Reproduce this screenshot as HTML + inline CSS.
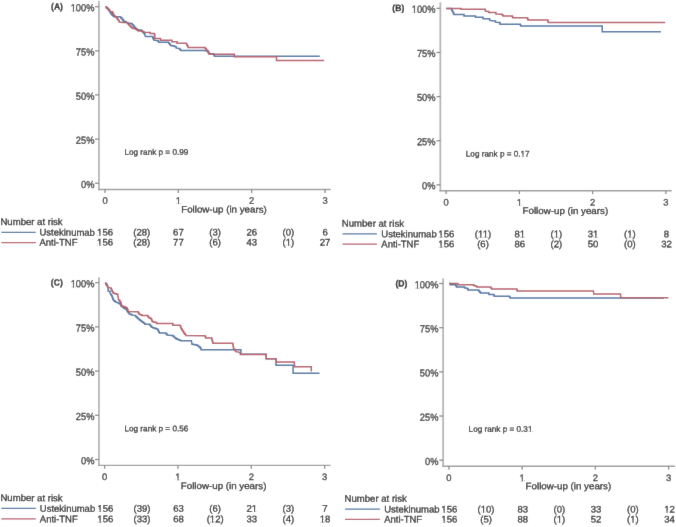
<!DOCTYPE html>
<html><head><meta charset="utf-8"><style>
html,body{margin:0;padding:0;background:#fff;}
svg{display:block;}
text{font-family:"Liberation Sans",sans-serif;text-rendering:geometricPrecision;stroke:#2a2a2a;stroke-width:0.28px;}
.ax{fill:#3a3a3a;stroke:#3a3a3a;stroke-width:0.3px;}
</style></head><body>
<svg width="676" height="527" viewBox="0 0 676 527">
<defs><filter id="bl" x="0" y="0" width="676" height="527" filterUnits="userSpaceOnUse"><feConvolveMatrix order="3" kernelMatrix="0.0053 0.062 0.0053 0.062 0.729 0.062 0.0053 0.062 0.0053" edgeMode="duplicate"/></filter></defs>
<g filter="url(#bl)">
<rect width="676" height="527" fill="#fff"/>
<g>
<text transform="translate(51 9.4) skewY(0.05) scale(0.93 0.97)" font-size="9.3" fill="#2a2a2a" font-weight="bold">(A)</text>
<path d="M98.95 1V190.2" fill="none" stroke="#b6b6b6" stroke-width="1.8"/>
<path d="M98.15 189.5H330.7" fill="none" stroke="#9e9e9e" stroke-width="1.4"/>
<path d="M95.05 6.65H98.95" stroke="#8a8a8a" stroke-width="1.3"/>
<text class="ax" transform="translate(94.45 11.35) skewY(0.05) scale(1.0 1.1)" font-size="9.3" fill="#2a2a2a" text-anchor="end">100%</text>
<path d="M95.05 50.8H98.95" stroke="#8a8a8a" stroke-width="1.3"/>
<text class="ax" transform="translate(94.45 55.5) skewY(0.05) scale(1.0 1.1)" font-size="9.3" fill="#2a2a2a" text-anchor="end">75%</text>
<path d="M95.05 94.95H98.95" stroke="#8a8a8a" stroke-width="1.3"/>
<text class="ax" transform="translate(94.45 99.65) skewY(0.05) scale(1.0 1.1)" font-size="9.3" fill="#2a2a2a" text-anchor="end">50%</text>
<path d="M95.05 139.1H98.95" stroke="#8a8a8a" stroke-width="1.3"/>
<text class="ax" transform="translate(94.45 143.8) skewY(0.05) scale(1.0 1.1)" font-size="9.3" fill="#2a2a2a" text-anchor="end">25%</text>
<path d="M95.05 183.25H98.95" stroke="#8a8a8a" stroke-width="1.3"/>
<text class="ax" transform="translate(94.45 187.95) skewY(0.05) scale(1.0 1.1)" font-size="9.3" fill="#2a2a2a" text-anchor="end">0%</text>
<path d="M105 189.5V192.9" stroke="#8a8a8a" stroke-width="1.3"/>
<text class="ax" transform="translate(105 203.8) skewY(0.05) scale(1.0 0.99)" font-size="9.4" fill="#2a2a2a" text-anchor="middle">0</text>
<path d="M178.33 189.5V192.9" stroke="#8a8a8a" stroke-width="1.3"/>
<text class="ax" transform="translate(178.33 203.8) skewY(0.05) scale(1.0 0.99)" font-size="9.4" fill="#2a2a2a" text-anchor="middle">1</text>
<path d="M251.67 189.5V192.9" stroke="#8a8a8a" stroke-width="1.3"/>
<text class="ax" transform="translate(251.67 203.8) skewY(0.05) scale(1.0 0.99)" font-size="9.4" fill="#2a2a2a" text-anchor="middle">2</text>
<path d="M325 189.5V192.9" stroke="#8a8a8a" stroke-width="1.3"/>
<text class="ax" transform="translate(325 203.8) skewY(0.05) scale(1.0 0.99)" font-size="9.4" fill="#2a2a2a" text-anchor="middle">3</text>
<text transform="translate(224 212.6) skewY(0.05) scale(1.04 1.0)" font-size="9.4" fill="#2a2a2a" text-anchor="middle">Follow-up (in years)</text>
<text style="stroke-width:0.28px;stroke:#2e2e2e" transform="translate(124.45 154.8) skewY(0.05) scale(1.01 1.0)" font-size="8.1" fill="#2e2e2e">Log rank p = 0.99</text>
<text transform="translate(0.45 224.9) skewY(0.05) scale(1.02 1.01)" font-size="9.4" fill="#2a2a2a">Number at risk</text>
<path d="M1.4 232.45H35.8" stroke="#5176a4" stroke-width="1.3"/>
<path d="M1.4 242.6H35.8" stroke="#b65e6c" stroke-width="1.3"/>
<text transform="translate(39.5 235.6) skewY(0.05) scale(1.012 1.01)" font-size="9.4" fill="#2a2a2a">Ustekinumab</text>
<text transform="translate(39.5 245.5) skewY(0.05) scale(1.012 1.01)" font-size="9.4" fill="#2a2a2a">Anti-TNF</text>
<text transform="translate(105.1 235.6) skewY(0.05) scale(1.02 1.01)" font-size="9.4" fill="#2a2a2a" text-anchor="middle">156</text>
<text transform="translate(105.1 245.5) skewY(0.05) scale(1.02 1.01)" font-size="9.4" fill="#2a2a2a" text-anchor="middle">156</text>
<text transform="translate(141.77 235.6) skewY(0.05) scale(1.02 1.01)" font-size="9.4" fill="#2a2a2a" text-anchor="middle">(28)</text>
<text transform="translate(141.77 245.5) skewY(0.05) scale(1.02 1.01)" font-size="9.4" fill="#2a2a2a" text-anchor="middle">(28)</text>
<text transform="translate(178.43 235.6) skewY(0.05) scale(1.02 1.01)" font-size="9.4" fill="#2a2a2a" text-anchor="middle">67</text>
<text transform="translate(178.43 245.5) skewY(0.05) scale(1.02 1.01)" font-size="9.4" fill="#2a2a2a" text-anchor="middle">77</text>
<text transform="translate(215.1 235.6) skewY(0.05) scale(1.02 1.01)" font-size="9.4" fill="#2a2a2a" text-anchor="middle">(3)</text>
<text transform="translate(215.1 245.5) skewY(0.05) scale(1.02 1.01)" font-size="9.4" fill="#2a2a2a" text-anchor="middle">(6)</text>
<text transform="translate(251.77 235.6) skewY(0.05) scale(1.02 1.01)" font-size="9.4" fill="#2a2a2a" text-anchor="middle">26</text>
<text transform="translate(251.77 245.5) skewY(0.05) scale(1.02 1.01)" font-size="9.4" fill="#2a2a2a" text-anchor="middle">43</text>
<text transform="translate(288.43 235.6) skewY(0.05) scale(1.02 1.01)" font-size="9.4" fill="#2a2a2a" text-anchor="middle">(0)</text>
<text transform="translate(288.43 245.5) skewY(0.05) scale(1.02 1.01)" font-size="9.4" fill="#2a2a2a" text-anchor="middle">(1)</text>
<text transform="translate(325.1 235.6) skewY(0.05) scale(1.02 1.01)" font-size="9.4" fill="#2a2a2a" text-anchor="middle">6</text>
<text transform="translate(325.1 245.5) skewY(0.05) scale(1.02 1.01)" font-size="9.4" fill="#2a2a2a" text-anchor="middle">27</text>
<path d="M105.3 6.7H106.45V7.7H107.6V8.7H108.37V9.83H109.13V10.97H109.9V12.1H110.63V13.13H111.37V14.17H112.1V15.2H113.05V16H114V16.8H119.3H120.65V17.9H122V19H122.75V20.1H123.5V21.2H124.85V21.8H126.2V22.4L128.1 23.1L131.1 23.5H132.25V24.85H133.4V26.2H134.55V27.5H135.7V28.8H136.8V29.4H137.9V30H140.6H141.55V30.95H142.5V31.9H143.65V33.4H144.8V34.9L145.5 36.6H152.2H152.73V37.8H153.27V39H153.8V40.2L157.4 40.7H158.5V42.3H167.8H168.67V43.33H169.53V44.37H170.4V45.4H171.77V45.73H173.13V46.07H174.5V46.4H176.1V48L178.7 48.5H179.7V49.5H180.7V50.5H204L207.1 51.1H208.15V52.4H209.2V53.7H213.3H213.85V54.95H214.4V56.2H319.8" fill="none" stroke="#5176a4" stroke-width="1.5"/>
<path d="M105.3 6.7H106.45V7.88H107.6V9.05H108.75V10.23H109.9V11.4L112.1 11.8H112.73V13.17H113.37V14.53H114V15.9H115.15V16.85H116.3V17.8H117.3V19.2H118.3V20.6H119.3V22L123.5 22.4H126.2H127.47V23.67H128.73V24.93H130V26.2H130.95V27.15H131.9V28.1H133.17V28.47H134.43V28.83H135.7V29.2H137V30.15H138.3V31.1H141H142.5V31.65H144V32.2L149.1 32.4H150.2V33.5H153.8H154.3V34.5H154.8V35.5V38.6H159H160.5V40.2H170.9H171.9V41.7H176.1H177.1V43.3H185.9H186.6V44.67H187.3V46.03H188V47.4H204H205.05V48.45H206.1V49.5H206.8V50.53H207.5V51.57H208.2V52.6H209.2V54.2H234.4V56.8H276.5V60.4H324.2" fill="none" stroke="#b65e6c" stroke-width="1.5"/>
</g>
<g>
<text transform="translate(392.3 10.9) skewY(0.05) scale(0.93 0.97)" font-size="9.3" fill="#2a2a2a" font-weight="bold">(B)</text>
<path d="M440.35 2.3V191.4" fill="none" stroke="#b6b6b6" stroke-width="1.8"/>
<path d="M439.55 190.7H671.7" fill="none" stroke="#9e9e9e" stroke-width="1.4"/>
<path d="M436.45 8.35H440.35" stroke="#8a8a8a" stroke-width="1.3"/>
<text class="ax" transform="translate(435.55 12.8) skewY(0.05) scale(1.0 1.1)" font-size="9.3" fill="#2a2a2a" text-anchor="end">100%</text>
<path d="M436.45 52.48H440.35" stroke="#8a8a8a" stroke-width="1.3"/>
<text class="ax" transform="translate(435.55 56.93) skewY(0.05) scale(1.0 1.1)" font-size="9.3" fill="#2a2a2a" text-anchor="end">75%</text>
<path d="M436.45 96.6H440.35" stroke="#8a8a8a" stroke-width="1.3"/>
<text class="ax" transform="translate(435.55 101.05) skewY(0.05) scale(1.0 1.1)" font-size="9.3" fill="#2a2a2a" text-anchor="end">50%</text>
<path d="M436.45 140.72H440.35" stroke="#8a8a8a" stroke-width="1.3"/>
<text class="ax" transform="translate(435.55 145.17) skewY(0.05) scale(1.0 1.1)" font-size="9.3" fill="#2a2a2a" text-anchor="end">25%</text>
<path d="M436.45 184.85H440.35" stroke="#8a8a8a" stroke-width="1.3"/>
<text class="ax" transform="translate(435.55 189.3) skewY(0.05) scale(1.0 1.1)" font-size="9.3" fill="#2a2a2a" text-anchor="end">0%</text>
<path d="M446.1 190.7V194.1" stroke="#8a8a8a" stroke-width="1.3"/>
<text class="ax" transform="translate(446.1 205.5) skewY(0.05) scale(1.0 0.99)" font-size="9.4" fill="#2a2a2a" text-anchor="middle">0</text>
<path d="M519.37 190.7V194.1" stroke="#8a8a8a" stroke-width="1.3"/>
<text class="ax" transform="translate(519.37 205.5) skewY(0.05) scale(1.0 0.99)" font-size="9.4" fill="#2a2a2a" text-anchor="middle">1</text>
<path d="M592.63 190.7V194.1" stroke="#8a8a8a" stroke-width="1.3"/>
<text class="ax" transform="translate(592.63 205.5) skewY(0.05) scale(1.0 0.99)" font-size="9.4" fill="#2a2a2a" text-anchor="middle">2</text>
<path d="M665.9 190.7V194.1" stroke="#8a8a8a" stroke-width="1.3"/>
<text class="ax" transform="translate(665.9 205.5) skewY(0.05) scale(1.0 0.99)" font-size="9.4" fill="#2a2a2a" text-anchor="middle">3</text>
<text transform="translate(565.35 213.9) skewY(0.05) scale(1.04 1.0)" font-size="9.4" fill="#2a2a2a" text-anchor="middle">Follow-up (in years)</text>
<text style="stroke-width:0.28px;stroke:#2e2e2e" transform="translate(465.8 156.4) skewY(0.05) scale(1.01 1.0)" font-size="8.1" fill="#2e2e2e">Log rank p = 0.17</text>
<text transform="translate(341.8 226.6) skewY(0.05) scale(1.02 1.01)" font-size="9.4" fill="#2a2a2a">Number at risk</text>
<path d="M342.5 233.85H376.9" stroke="#5176a4" stroke-width="1.3"/>
<path d="M342.5 244.1H376.9" stroke="#b65e6c" stroke-width="1.3"/>
<text transform="translate(381.3 237.2) skewY(0.05) scale(1.012 1.01)" font-size="9.4" fill="#2a2a2a">Ustekinumab</text>
<text transform="translate(381.3 247.2) skewY(0.05) scale(1.012 1.01)" font-size="9.4" fill="#2a2a2a">Anti-TNF</text>
<text transform="translate(446.3 237.2) skewY(0.05) scale(1.02 1.01)" font-size="9.4" fill="#2a2a2a" text-anchor="middle">156</text>
<text transform="translate(446.3 247.2) skewY(0.05) scale(1.02 1.01)" font-size="9.4" fill="#2a2a2a" text-anchor="middle">156</text>
<text transform="translate(483 237.2) skewY(0.05) scale(1.02 1.01)" font-size="9.4" fill="#2a2a2a" text-anchor="middle">(11)</text>
<text transform="translate(483 247.2) skewY(0.05) scale(1.02 1.01)" font-size="9.4" fill="#2a2a2a" text-anchor="middle">(6)</text>
<text transform="translate(519.7 237.2) skewY(0.05) scale(1.02 1.01)" font-size="9.4" fill="#2a2a2a" text-anchor="middle">81</text>
<text transform="translate(519.7 247.2) skewY(0.05) scale(1.02 1.01)" font-size="9.4" fill="#2a2a2a" text-anchor="middle">86</text>
<text transform="translate(556.4 237.2) skewY(0.05) scale(1.02 1.01)" font-size="9.4" fill="#2a2a2a" text-anchor="middle">(1)</text>
<text transform="translate(556.4 247.2) skewY(0.05) scale(1.02 1.01)" font-size="9.4" fill="#2a2a2a" text-anchor="middle">(2)</text>
<text transform="translate(593.1 237.2) skewY(0.05) scale(1.02 1.01)" font-size="9.4" fill="#2a2a2a" text-anchor="middle">31</text>
<text transform="translate(593.1 247.2) skewY(0.05) scale(1.02 1.01)" font-size="9.4" fill="#2a2a2a" text-anchor="middle">50</text>
<text transform="translate(629.8 237.2) skewY(0.05) scale(1.02 1.01)" font-size="9.4" fill="#2a2a2a" text-anchor="middle">(1)</text>
<text transform="translate(629.8 247.2) skewY(0.05) scale(1.02 1.01)" font-size="9.4" fill="#2a2a2a" text-anchor="middle">(0)</text>
<text transform="translate(666.5 237.2) skewY(0.05) scale(1.02 1.01)" font-size="9.4" fill="#2a2a2a" text-anchor="middle">8</text>
<text transform="translate(666.5 247.2) skewY(0.05) scale(1.02 1.01)" font-size="9.4" fill="#2a2a2a" text-anchor="middle">32</text>
<path d="M446.2 8.4H451.1H451.53V9.43H451.97V10.47H452.4V11.5H453.1V12.95H453.8V14.4H463.1H464V16H474.2H475.5V17.3H481.7H483V18.8H488.8H489.7V20.4L494.1 20.9H495.5V22.2L498.6 22.6H500V24.2H519.9H520.35V25.15H520.8V26.1H602.2V31.7H660.9" fill="none" stroke="#5176a4" stroke-width="1.5"/>
<path d="M446.2 8.4H460H460.9V9.3H483.9H485.3V11.1L487.9 11.4H488.8V12.4H495H495.9V14L501.2 14.2H502.1V15.1H503V16H511.9H512.35V16.9H512.8V17.8H527H527.45V18.85H527.9V19.9H547.4H547.85V21.15H548.3V22.4H665.2" fill="none" stroke="#b65e6c" stroke-width="1.5"/>
</g>
<g>
<text transform="translate(50.8 285.6) skewY(0.05) scale(0.93 0.97)" font-size="9.3" fill="#2a2a2a" font-weight="bold">(C)</text>
<path d="M98.95 277.3V466.1" fill="none" stroke="#b6b6b6" stroke-width="1.8"/>
<path d="M98.15 465.4H330.6" fill="none" stroke="#9e9e9e" stroke-width="1.4"/>
<path d="M95.05 282.65H98.95" stroke="#8a8a8a" stroke-width="1.3"/>
<text class="ax" transform="translate(94.45 287.35) skewY(0.05) scale(1.0 1.1)" font-size="9.3" fill="#2a2a2a" text-anchor="end">100%</text>
<path d="M95.05 326.86H98.95" stroke="#8a8a8a" stroke-width="1.3"/>
<text class="ax" transform="translate(94.45 331.56) skewY(0.05) scale(1.0 1.1)" font-size="9.3" fill="#2a2a2a" text-anchor="end">75%</text>
<path d="M95.05 371.07H98.95" stroke="#8a8a8a" stroke-width="1.3"/>
<text class="ax" transform="translate(94.45 375.77) skewY(0.05) scale(1.0 1.1)" font-size="9.3" fill="#2a2a2a" text-anchor="end">50%</text>
<path d="M95.05 415.29H98.95" stroke="#8a8a8a" stroke-width="1.3"/>
<text class="ax" transform="translate(94.45 419.99) skewY(0.05) scale(1.0 1.1)" font-size="9.3" fill="#2a2a2a" text-anchor="end">25%</text>
<path d="M95.05 459.5H98.95" stroke="#8a8a8a" stroke-width="1.3"/>
<text class="ax" transform="translate(94.45 464.2) skewY(0.05) scale(1.0 1.1)" font-size="9.3" fill="#2a2a2a" text-anchor="end">0%</text>
<path d="M104.6 465.4V468.8" stroke="#8a8a8a" stroke-width="1.3"/>
<text class="ax" transform="translate(104.6 480.1) skewY(0.05) scale(1.0 0.99)" font-size="9.4" fill="#2a2a2a" text-anchor="middle">0</text>
<path d="M177.93 465.4V468.8" stroke="#8a8a8a" stroke-width="1.3"/>
<text class="ax" transform="translate(177.93 480.1) skewY(0.05) scale(1.0 0.99)" font-size="9.4" fill="#2a2a2a" text-anchor="middle">1</text>
<path d="M251.27 465.4V468.8" stroke="#8a8a8a" stroke-width="1.3"/>
<text class="ax" transform="translate(251.27 480.1) skewY(0.05) scale(1.0 0.99)" font-size="9.4" fill="#2a2a2a" text-anchor="middle">2</text>
<path d="M324.6 465.4V468.8" stroke="#8a8a8a" stroke-width="1.3"/>
<text class="ax" transform="translate(324.6 480.1) skewY(0.05) scale(1.0 0.99)" font-size="9.4" fill="#2a2a2a" text-anchor="middle">3</text>
<text transform="translate(223.6 489.1) skewY(0.05) scale(1.04 1.0)" font-size="9.4" fill="#2a2a2a" text-anchor="middle">Follow-up (in years)</text>
<text style="stroke-width:0.28px;stroke:#2e2e2e" transform="translate(124.45 431.3) skewY(0.05) scale(1.01 1.0)" font-size="8.1" fill="#2e2e2e">Log rank p = 0.56</text>
<text transform="translate(0.45 501.1) skewY(0.05) scale(1.02 1.01)" font-size="9.4" fill="#2a2a2a">Number at risk</text>
<path d="M1.3 508.35H35.8" stroke="#5176a4" stroke-width="1.3"/>
<path d="M1.3 518.9H35.8" stroke="#b65e6c" stroke-width="1.3"/>
<text transform="translate(39.8 511.75) skewY(0.05) scale(1.012 1.01)" font-size="9.4" fill="#2a2a2a">Ustekinumab</text>
<text transform="translate(39.8 522.2) skewY(0.05) scale(1.012 1.01)" font-size="9.4" fill="#2a2a2a">Anti-TNF</text>
<text transform="translate(105.35 511.75) skewY(0.05) scale(1.02 1.01)" font-size="9.4" fill="#2a2a2a" text-anchor="middle">156</text>
<text transform="translate(105.35 522.2) skewY(0.05) scale(1.02 1.01)" font-size="9.4" fill="#2a2a2a" text-anchor="middle">156</text>
<text transform="translate(141.96 511.75) skewY(0.05) scale(1.02 1.01)" font-size="9.4" fill="#2a2a2a" text-anchor="middle">(39)</text>
<text transform="translate(141.96 522.2) skewY(0.05) scale(1.02 1.01)" font-size="9.4" fill="#2a2a2a" text-anchor="middle">(33)</text>
<text transform="translate(178.57 511.75) skewY(0.05) scale(1.02 1.01)" font-size="9.4" fill="#2a2a2a" text-anchor="middle">63</text>
<text transform="translate(178.57 522.2) skewY(0.05) scale(1.02 1.01)" font-size="9.4" fill="#2a2a2a" text-anchor="middle">68</text>
<text transform="translate(215.18 511.75) skewY(0.05) scale(1.02 1.01)" font-size="9.4" fill="#2a2a2a" text-anchor="middle">(6)</text>
<text transform="translate(215.18 522.2) skewY(0.05) scale(1.02 1.01)" font-size="9.4" fill="#2a2a2a" text-anchor="middle">(12)</text>
<text transform="translate(251.78 511.75) skewY(0.05) scale(1.02 1.01)" font-size="9.4" fill="#2a2a2a" text-anchor="middle">21</text>
<text transform="translate(251.78 522.2) skewY(0.05) scale(1.02 1.01)" font-size="9.4" fill="#2a2a2a" text-anchor="middle">33</text>
<text transform="translate(288.39 511.75) skewY(0.05) scale(1.02 1.01)" font-size="9.4" fill="#2a2a2a" text-anchor="middle">(3)</text>
<text transform="translate(288.39 522.2) skewY(0.05) scale(1.02 1.01)" font-size="9.4" fill="#2a2a2a" text-anchor="middle">(4)</text>
<text transform="translate(325 511.75) skewY(0.05) scale(1.02 1.01)" font-size="9.4" fill="#2a2a2a" text-anchor="middle">7</text>
<text transform="translate(325 522.2) skewY(0.05) scale(1.02 1.01)" font-size="9.4" fill="#2a2a2a" text-anchor="middle">18</text>
<path d="M104.9 283.3H106.05V284.25H107.2V285.2L108 287.9L108.3 291.3H109.9V292.4L110.6 294.3H111.2V295.25H111.8V296.2H112.35V297.7H112.9V299.2H113.45V300.15H114V301.1H115.15V301.7H116.3V302.3L118.2 303H119.15V303.6H120.1V304.2H120.65V305.35H121.2V306.5H122.8V307.6H123.9V308.35H125V309.1H126.6V310.6H127.35V311.55H128.1V312.5H129.2V314H130.55V314.6H131.9V315.2L134.5 315.6H135.8V316.75H137.1V317.9H138.13V318.77H139.17V319.63H140.2V320.5H141.35V321.43H142.5V322.35H143.65V323.27H144.8V324.2H149H149.87V325.23H150.73V326.27H151.6V327.3H152.74V327.7H153.88V328.1H155.02V328.5H156.16V328.9H157.3V329.3H157.97V330.53H158.63V331.77H159.3V333H165H166.05V334H167.1V335L171.8 335.5H173.17V336.57H174.53V337.63H175.9V338.7H177.07V339.2H178.25V339.7H179.43V340.2H180.6V340.7H191.4L192 344.3H193.28V344.57H194.55V344.85H195.82V345.12H197.1V345.4H198.55V346.75H200V348.1H201V349.7H240.9V354.3H266.2V358.8H276V365.2H293.1V373.2H319.5" fill="none" stroke="#5176a4" stroke-width="1.5"/>
<path d="M104.9 283.3H105.8V284.57H106.7V285.83H107.6V287.1L110.6 287.9H111.1V289.03H111.6V290.17H112.1V291.3H112.7V292.25H113.3V293.2H114.8V293.75H116.3V294.3H117.8V295.8L118.6 300H119.55V301.15H120.5V302.3H120.87V303.57H121.23V304.83H121.6V306.1H122.73V306.47H123.87V306.83H125V307.2H125.95V307.75H126.9V308.3H127.3V309.33H127.7V310.37H128.1V311.4L137.4 311.7H138.25V313H139.1V314.3H140.4V314.85H141.7V315.4H146.9H147.7V316.4H148.5V317.4H149.8V318.2H151.1V319H151.6V320.3H152.1V321.6H153.3V321.93H154.5V322.27H155.7V322.6H156.7V323.6H171.8H172.8V325.2H180H180.37V326.4H180.73V327.6H181.1V328.8H181.97V330.2H182.83V331.6H183.7V333H184.7V334.3H185.7V335.6L204.7 335.7H205.2V336.9H205.7V338.1H211.4H211.78V339.4H212.15V340.7H212.53V342H212.9V343.3H232.6H232.82V344.48H233.04V345.66H233.26V346.84H233.48V348.02H233.7V349.2H234.7V350.45H235.7V351.7L239.9 352.3L240.4 354.6H266.2V358.8H276L276.6 362.1H294.2L294.7 366.7H311.3V371.4" fill="none" stroke="#b65e6c" stroke-width="1.5"/>
</g>
<g>
<text transform="translate(395.4 286.45) skewY(0.05) scale(0.93 0.97)" font-size="9.3" fill="#2a2a2a" font-weight="bold">(D)</text>
<path d="M443.15 278.3V466.96" fill="none" stroke="#b6b6b6" stroke-width="1.8"/>
<path d="M442.35 466.26H674.9" fill="none" stroke="#9e9e9e" stroke-width="1.4"/>
<path d="M439.25 283.5H443.15" stroke="#8a8a8a" stroke-width="1.3"/>
<text class="ax" transform="translate(438.45 288.2) skewY(0.05) scale(1.0 1.1)" font-size="9.3" fill="#2a2a2a" text-anchor="end">100%</text>
<path d="M439.25 327.68H443.15" stroke="#8a8a8a" stroke-width="1.3"/>
<text class="ax" transform="translate(438.45 332.38) skewY(0.05) scale(1.0 1.1)" font-size="9.3" fill="#2a2a2a" text-anchor="end">75%</text>
<path d="M439.25 371.85H443.15" stroke="#8a8a8a" stroke-width="1.3"/>
<text class="ax" transform="translate(438.45 376.55) skewY(0.05) scale(1.0 1.1)" font-size="9.3" fill="#2a2a2a" text-anchor="end">50%</text>
<path d="M439.25 416.02H443.15" stroke="#8a8a8a" stroke-width="1.3"/>
<text class="ax" transform="translate(438.45 420.72) skewY(0.05) scale(1.0 1.1)" font-size="9.3" fill="#2a2a2a" text-anchor="end">25%</text>
<path d="M439.25 460.2H443.15" stroke="#8a8a8a" stroke-width="1.3"/>
<text class="ax" transform="translate(438.45 464.9) skewY(0.05) scale(1.0 1.1)" font-size="9.3" fill="#2a2a2a" text-anchor="end">0%</text>
<path d="M448.95 466.26V469.66" stroke="#8a8a8a" stroke-width="1.3"/>
<text class="ax" transform="translate(448.95 481) skewY(0.05) scale(1.0 0.99)" font-size="9.4" fill="#2a2a2a" text-anchor="middle">0</text>
<path d="M522.17 466.26V469.66" stroke="#8a8a8a" stroke-width="1.3"/>
<text class="ax" transform="translate(522.17 481) skewY(0.05) scale(1.0 0.99)" font-size="9.4" fill="#2a2a2a" text-anchor="middle">1</text>
<path d="M595.38 466.26V469.66" stroke="#8a8a8a" stroke-width="1.3"/>
<text class="ax" transform="translate(595.38 481) skewY(0.05) scale(1.0 0.99)" font-size="9.4" fill="#2a2a2a" text-anchor="middle">2</text>
<path d="M668.6 466.26V469.66" stroke="#8a8a8a" stroke-width="1.3"/>
<text class="ax" transform="translate(668.6 481) skewY(0.05) scale(1.0 0.99)" font-size="9.4" fill="#2a2a2a" text-anchor="middle">3</text>
<text transform="translate(568.4 489.2) skewY(0.05) scale(1.04 1.0)" font-size="9.4" fill="#2a2a2a" text-anchor="middle">Follow-up (in years)</text>
<text style="stroke-width:0.28px;stroke:#2e2e2e" transform="translate(468.6 431.7) skewY(0.05) scale(1.01 1.0)" font-size="8.1" fill="#2e2e2e">Log rank p = 0.31</text>
<text transform="translate(344.6 501.7) skewY(0.05) scale(1.02 1.01)" font-size="9.4" fill="#2a2a2a">Number at risk</text>
<path d="M345 509.2H379.9" stroke="#5176a4" stroke-width="1.3"/>
<path d="M345 519.4H379.9" stroke="#b65e6c" stroke-width="1.3"/>
<text transform="translate(384.2 512.55) skewY(0.05) scale(1.012 1.01)" font-size="9.4" fill="#2a2a2a">Ustekinumab</text>
<text transform="translate(384.2 522.4) skewY(0.05) scale(1.012 1.01)" font-size="9.4" fill="#2a2a2a">Anti-TNF</text>
<text transform="translate(449.35 512.55) skewY(0.05) scale(1.02 1.01)" font-size="9.4" fill="#2a2a2a" text-anchor="middle">156</text>
<text transform="translate(449.35 522.4) skewY(0.05) scale(1.02 1.01)" font-size="9.4" fill="#2a2a2a" text-anchor="middle">156</text>
<text transform="translate(486.04 512.55) skewY(0.05) scale(1.02 1.01)" font-size="9.4" fill="#2a2a2a" text-anchor="middle">(10)</text>
<text transform="translate(486.04 522.4) skewY(0.05) scale(1.02 1.01)" font-size="9.4" fill="#2a2a2a" text-anchor="middle">(5)</text>
<text transform="translate(522.73 512.55) skewY(0.05) scale(1.02 1.01)" font-size="9.4" fill="#2a2a2a" text-anchor="middle">83</text>
<text transform="translate(522.73 522.4) skewY(0.05) scale(1.02 1.01)" font-size="9.4" fill="#2a2a2a" text-anchor="middle">88</text>
<text transform="translate(559.42 512.55) skewY(0.05) scale(1.02 1.01)" font-size="9.4" fill="#2a2a2a" text-anchor="middle">(0)</text>
<text transform="translate(559.42 522.4) skewY(0.05) scale(1.02 1.01)" font-size="9.4" fill="#2a2a2a" text-anchor="middle">(1)</text>
<text transform="translate(596.12 512.55) skewY(0.05) scale(1.02 1.01)" font-size="9.4" fill="#2a2a2a" text-anchor="middle">33</text>
<text transform="translate(596.12 522.4) skewY(0.05) scale(1.02 1.01)" font-size="9.4" fill="#2a2a2a" text-anchor="middle">52</text>
<text transform="translate(632.81 512.55) skewY(0.05) scale(1.02 1.01)" font-size="9.4" fill="#2a2a2a" text-anchor="middle">(0)</text>
<text transform="translate(632.81 522.4) skewY(0.05) scale(1.02 1.01)" font-size="9.4" fill="#2a2a2a" text-anchor="middle">(1)</text>
<text transform="translate(669.5 512.55) skewY(0.05) scale(1.02 1.01)" font-size="9.4" fill="#2a2a2a" text-anchor="middle">12</text>
<text transform="translate(669.5 522.4) skewY(0.05) scale(1.02 1.01)" font-size="9.4" fill="#2a2a2a" text-anchor="middle">34</text>
<path d="M449 283.5H450.3V284.7H455.2H455.85V285.8H456.5V286.9H463.6H464.5V287.8L466.7 288.2H467.4V289.1H468.1V290H477.4H478.7V290.9H479.6V292H480.5V293.1H488H488.9V294.4H493.4H493.85V295.3H494.3V296.2H509.2H509.65V297.15H510.1V298.1H664" fill="none" stroke="#5176a4" stroke-width="1.5"/>
<path d="M449 283.5H456.5H457.9V284.7H472.5H473.4V285.25H474.3V285.8H475.6V286.35H476.9V286.9H489.8H490.7V288H491.6V289.1H516.3H516.75V290.05H517.2V291H593.4L593.8 294H620.5L620.8 297.7H668.4" fill="none" stroke="#b65e6c" stroke-width="1.5"/>
</g>
<g transform="translate(94.45 11.35) skewY(0.05) scale(1.0 1.1)"><rect x="-23.32" y="-1.74" width="1.67" height="2.34" fill="#fff"/><rect x="-20.42" y="-1.74" width="1.57" height="2.34" fill="#fff"/></g>
<g transform="translate(178.33 203.8) skewY(0.05) scale(1.0 0.99)"><rect x="-2.14" y="-1.75" width="1.69" height="2.35" fill="#fff"/><rect x="0.79" y="-1.75" width="1.59" height="2.35" fill="#fff"/></g>
<g transform="translate(105.1 235.6) skewY(0.05) scale(1.02 1.01)"><rect x="-7.36" y="-1.74" width="1.7" height="2.34" fill="#fff"/><rect x="-4.44" y="-1.74" width="1.6" height="2.34" fill="#fff"/></g>
<g transform="translate(105.1 245.5) skewY(0.05) scale(1.02 1.01)"><rect x="-7.36" y="-1.74" width="1.7" height="2.34" fill="#fff"/><rect x="-4.44" y="-1.74" width="1.6" height="2.34" fill="#fff"/></g>
<g transform="translate(288.43 245.5) skewY(0.05) scale(1.02 1.01)"><rect x="-2.15" y="-1.74" width="1.7" height="2.34" fill="#fff"/><rect x="0.76" y="-1.74" width="1.6" height="2.34" fill="#fff"/></g>
<g transform="translate(435.55 12.8) skewY(0.05) scale(1.0 1.1)"><rect x="-23.32" y="-1.74" width="1.67" height="2.34" fill="#fff"/><rect x="-20.42" y="-1.74" width="1.57" height="2.34" fill="#fff"/></g>
<g transform="translate(519.37 205.5) skewY(0.05) scale(1.0 0.99)"><rect x="-2.14" y="-1.75" width="1.69" height="2.35" fill="#fff"/><rect x="0.79" y="-1.75" width="1.59" height="2.35" fill="#fff"/></g>
<g transform="translate(465.8 156.4) skewY(0.05) scale(1.01 1.0)"><rect x="54.62" y="-1.65" width="1.44" height="2.25" fill="#fff"/><rect x="57.16" y="-1.65" width="1.35" height="2.25" fill="#fff"/></g>
<g transform="translate(446.3 237.2) skewY(0.05) scale(1.02 1.01)"><rect x="-7.36" y="-1.74" width="1.7" height="2.34" fill="#fff"/><rect x="-4.44" y="-1.74" width="1.6" height="2.34" fill="#fff"/></g>
<g transform="translate(446.3 247.2) skewY(0.05) scale(1.02 1.01)"><rect x="-7.36" y="-1.74" width="1.7" height="2.34" fill="#fff"/><rect x="-4.44" y="-1.74" width="1.6" height="2.34" fill="#fff"/></g>
<g transform="translate(483 237.2) skewY(0.05) scale(1.02 1.01)"><rect x="-4.41" y="-1.74" width="1.7" height="2.34" fill="#fff"/><rect x="-1.5" y="-1.74" width="1.6" height="2.34" fill="#fff"/></g>
<g transform="translate(483 237.2) skewY(0.05) scale(1.02 1.01)"><rect x="0.1" y="-1.74" width="1.7" height="2.34" fill="#fff"/><rect x="3.02" y="-1.74" width="1.6" height="2.34" fill="#fff"/></g>
<g transform="translate(519.7 237.2) skewY(0.05) scale(1.02 1.01)"><rect x="0.45" y="-1.74" width="1.7" height="2.34" fill="#fff"/><rect x="3.37" y="-1.74" width="1.6" height="2.34" fill="#fff"/></g>
<g transform="translate(556.4 237.2) skewY(0.05) scale(1.02 1.01)"><rect x="-2.15" y="-1.74" width="1.7" height="2.34" fill="#fff"/><rect x="0.76" y="-1.74" width="1.6" height="2.34" fill="#fff"/></g>
<g transform="translate(593.1 237.2) skewY(0.05) scale(1.02 1.01)"><rect x="0.45" y="-1.74" width="1.7" height="2.34" fill="#fff"/><rect x="3.37" y="-1.74" width="1.6" height="2.34" fill="#fff"/></g>
<g transform="translate(629.8 237.2) skewY(0.05) scale(1.02 1.01)"><rect x="-2.15" y="-1.74" width="1.7" height="2.34" fill="#fff"/><rect x="0.76" y="-1.74" width="1.6" height="2.34" fill="#fff"/></g>
<g transform="translate(94.45 287.35) skewY(0.05) scale(1.0 1.1)"><rect x="-23.32" y="-1.74" width="1.67" height="2.34" fill="#fff"/><rect x="-20.42" y="-1.74" width="1.57" height="2.34" fill="#fff"/></g>
<g transform="translate(177.93 480.1) skewY(0.05) scale(1.0 0.99)"><rect x="-2.14" y="-1.75" width="1.69" height="2.35" fill="#fff"/><rect x="0.79" y="-1.75" width="1.59" height="2.35" fill="#fff"/></g>
<g transform="translate(105.35 511.75) skewY(0.05) scale(1.02 1.01)"><rect x="-7.36" y="-1.74" width="1.7" height="2.34" fill="#fff"/><rect x="-4.44" y="-1.74" width="1.6" height="2.34" fill="#fff"/></g>
<g transform="translate(105.35 522.2) skewY(0.05) scale(1.02 1.01)"><rect x="-7.36" y="-1.74" width="1.7" height="2.34" fill="#fff"/><rect x="-4.44" y="-1.74" width="1.6" height="2.34" fill="#fff"/></g>
<g transform="translate(215.18 522.2) skewY(0.05) scale(1.02 1.01)"><rect x="-4.76" y="-1.74" width="1.7" height="2.34" fill="#fff"/><rect x="-1.84" y="-1.74" width="1.6" height="2.34" fill="#fff"/></g>
<g transform="translate(251.78 511.75) skewY(0.05) scale(1.02 1.01)"><rect x="0.45" y="-1.74" width="1.7" height="2.34" fill="#fff"/><rect x="3.37" y="-1.74" width="1.6" height="2.34" fill="#fff"/></g>
<g transform="translate(325 522.2) skewY(0.05) scale(1.02 1.01)"><rect x="-4.75" y="-1.74" width="1.7" height="2.34" fill="#fff"/><rect x="-1.83" y="-1.74" width="1.6" height="2.34" fill="#fff"/></g>
<g transform="translate(438.45 288.2) skewY(0.05) scale(1.0 1.1)"><rect x="-23.32" y="-1.74" width="1.67" height="2.34" fill="#fff"/><rect x="-20.42" y="-1.74" width="1.57" height="2.34" fill="#fff"/></g>
<g transform="translate(522.17 481) skewY(0.05) scale(1.0 0.99)"><rect x="-2.14" y="-1.75" width="1.69" height="2.35" fill="#fff"/><rect x="0.79" y="-1.75" width="1.59" height="2.35" fill="#fff"/></g>
<g transform="translate(468.6 431.7) skewY(0.05) scale(1.01 1.0)"><rect x="59.12" y="-1.65" width="1.44" height="2.25" fill="#fff"/><rect x="61.66" y="-1.65" width="1.35" height="2.25" fill="#fff"/></g>
<g transform="translate(449.35 512.55) skewY(0.05) scale(1.02 1.01)"><rect x="-7.36" y="-1.74" width="1.7" height="2.34" fill="#fff"/><rect x="-4.44" y="-1.74" width="1.6" height="2.34" fill="#fff"/></g>
<g transform="translate(449.35 522.4) skewY(0.05) scale(1.02 1.01)"><rect x="-7.36" y="-1.74" width="1.7" height="2.34" fill="#fff"/><rect x="-4.44" y="-1.74" width="1.6" height="2.34" fill="#fff"/></g>
<g transform="translate(486.04 512.55) skewY(0.05) scale(1.02 1.01)"><rect x="-4.76" y="-1.74" width="1.7" height="2.34" fill="#fff"/><rect x="-1.84" y="-1.74" width="1.6" height="2.34" fill="#fff"/></g>
<g transform="translate(559.42 522.4) skewY(0.05) scale(1.02 1.01)"><rect x="-2.15" y="-1.74" width="1.7" height="2.34" fill="#fff"/><rect x="0.76" y="-1.74" width="1.6" height="2.34" fill="#fff"/></g>
<g transform="translate(632.81 522.4) skewY(0.05) scale(1.02 1.01)"><rect x="-2.15" y="-1.74" width="1.7" height="2.34" fill="#fff"/><rect x="0.76" y="-1.74" width="1.6" height="2.34" fill="#fff"/></g>
<g transform="translate(669.5 512.55) skewY(0.05) scale(1.02 1.01)"><rect x="-4.75" y="-1.74" width="1.7" height="2.34" fill="#fff"/><rect x="-1.83" y="-1.74" width="1.6" height="2.34" fill="#fff"/></g>
</g>
</svg>
</body></html>
